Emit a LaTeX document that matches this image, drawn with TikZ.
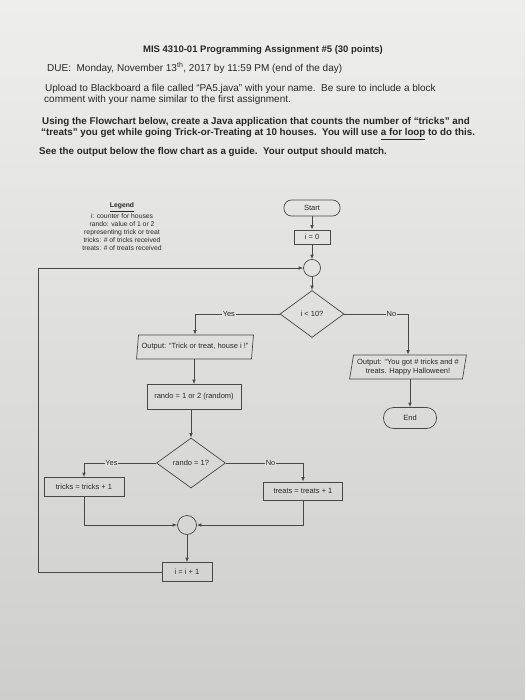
\documentclass[tikz,border=0pt]{standalone}
\usepackage{fontspec}
\setmainfont{Liberation Sans}
\usetikzlibrary{shapes.geometric,arrows.meta,calc}
\definecolor{linec}{RGB}{72,72,72}
\definecolor{ink}{RGB}{40,40,40}
\definecolor{papertop}{RGB}{238,238,236}
\definecolor{paperbot}{RGB}{206,206,204}
\definecolor{papermid}{RGB}{226,226,224}
\begin{document}
\begin{tikzpicture}[x=1pt,y=-1pt,
  every node/.style={text=ink, inner sep=1pt},
  line/.style={draw=linec, line width=0.7pt},
  arr/.style={line, -{Latex[length=4.5pt,width=3.5pt]}},
  proc/.style={draw=linec, line width=0.7pt, font=\fontsize{7.5}{8.8}\selectfont, inner sep=1pt, align=center},
  term/.style={proc, rounded corners=7.5pt},
  dec/.style={proc, diamond},
  io/.style={proc, trapezium, trapezium left angle=78, trapezium right angle=102, trapezium stretches=true},
  junc/.style={draw=linec, line width=0.7pt, circle, inner sep=0pt},
  lbl/.style={fill=papermid, font=\fontsize{7.5}{8}\selectfont, inner sep=0.8pt},
  hdr/.style={anchor=west, font=\fontsize{10}{11}\selectfont, inner sep=0pt},
  hdrb/.style={hdr, font=\fontsize{9.8}{11}\selectfont\bfseries},
  leg/.style={font=\fontsize{6.8}{8}\selectfont, inner sep=0pt, align=center},
]
\shade[top color=papertop, bottom color=paperbot] (0,0) rectangle (525,700);
\useasboundingbox (0,0) rectangle (525,700);

% header
\node[font=\fontsize{9.5}{11}\selectfont\bfseries, inner sep=0pt] (title) at (263,50) {MIS 4310-01 Programming Assignment \#5 (30 points)};
\node[hdr] (due) at (47,68) {DUE:\ \ Monday, November 13\textsuperscript{th}, 2017 by 11:59 PM (end of the day)};
\node[hdr] (up1) at (45,89) {Upload to Blackboard a file called ``PA5.java'' with your name.\ \ Be sure to include a block};
\node[hdr] (up2) at (44,100) {comment with your name similar to the first assignment.};
\node[hdrb] (us1) at (42,122) {Using the Flowchart below, create a Java application that counts the number of ``tricks'' and};
\node[hdrb] (us2) at (41,134) {``treats'' you get while going Trick-or-Treating at 10 houses.\ \ You will use \underline{a for loop} to do this.};
\node[hdrb] (see) at (39,152) {See the output below the flow chart as a guide.\ \ Your output should match.};

% legend
\node[leg] (legend) at (122,227) {\textbf{\underline{Legend}}\\[1.5pt] i: counter for houses\\ rando: value of 1 or 2\\ representing trick or treat\\ tricks: \# of tricks received\\ treats: \# of treats received};

% flowchart nodes
\node[term, minimum width=56pt, minimum height=16pt] (start) at (312,208) {Start};
\node[proc, minimum width=36pt, minimum height=14pt] (i0) at (312,237) {i = 0};
\node[junc, minimum size=17pt] (c1) at (312,268) {};
\node[dec, minimum width=64pt, minimum height=47pt] (d1) at (312,314) {i {<} 10?};
\node[io, minimum width=117pt, minimum height=24pt] (out1) at (195,347) {Output: ``Trick or treat, house i !''};
\node[proc, minimum width=94pt, minimum height=25pt] (rando) at (194,397) {rando = 1 or 2 (random)};
\node[dec, minimum width=69pt, minimum height=50pt] (d2) at (191,463) {rando = 1?};
\node[proc, minimum width=80pt, minimum height=19pt] (tricks) at (84,487) {tricks = tricks + 1};
\node[proc, minimum width=79pt, minimum height=18pt] (treats) at (303,491) {treats = treats + 1};
\node[junc, minimum size=19pt] (c2) at (187,525) {};
\node[proc, minimum width=50pt, minimum height=19pt] (inc) at (187,572) {i = i + 1};
\node[io, minimum width=117pt, minimum height=24pt] (out2) at (408,367) {Output: ``You got \# tricks and \#\\ treats. Happy Halloween!};
\node[term, minimum width=53pt, minimum height=21pt, rounded corners=10pt] (end) at (410,418) {End};

\coordinate (loopx) at (38,0);

% connectors
\draw[arr] (start) -- (i0);
\draw[arr] (i0) -- (c1);
\draw[arr] (c1) -- (d1);
\draw[arr] (d1.west) -| node[lbl, pos=0.3] {Yes} (out1.north);
\draw[arr] (d1.east) -| node[lbl, pos=0.37] {No} (out2.north);
\draw[arr] (rando.north |- out1.south) -- (rando.north);
\draw[arr] (d2.north |- rando.south) -- (d2.north);
\draw[arr] (end.north |- out2.south) -- (end.north);
\draw[arr] (d2.west) -| node[lbl, pos=0.31] {Yes} (tricks.north);
\draw[arr] (d2.east) -| node[lbl, pos=0.29] {No} (treats.north);
\draw[arr] (tricks.south) |- (c2.west);
\draw[arr] (treats.south) |- (c2.east);
\draw[arr] (c2) -- (inc);
\draw[arr] (inc.west) -| (loopx |- c1) -- (c1.west);
\end{tikzpicture}
\end{document}
